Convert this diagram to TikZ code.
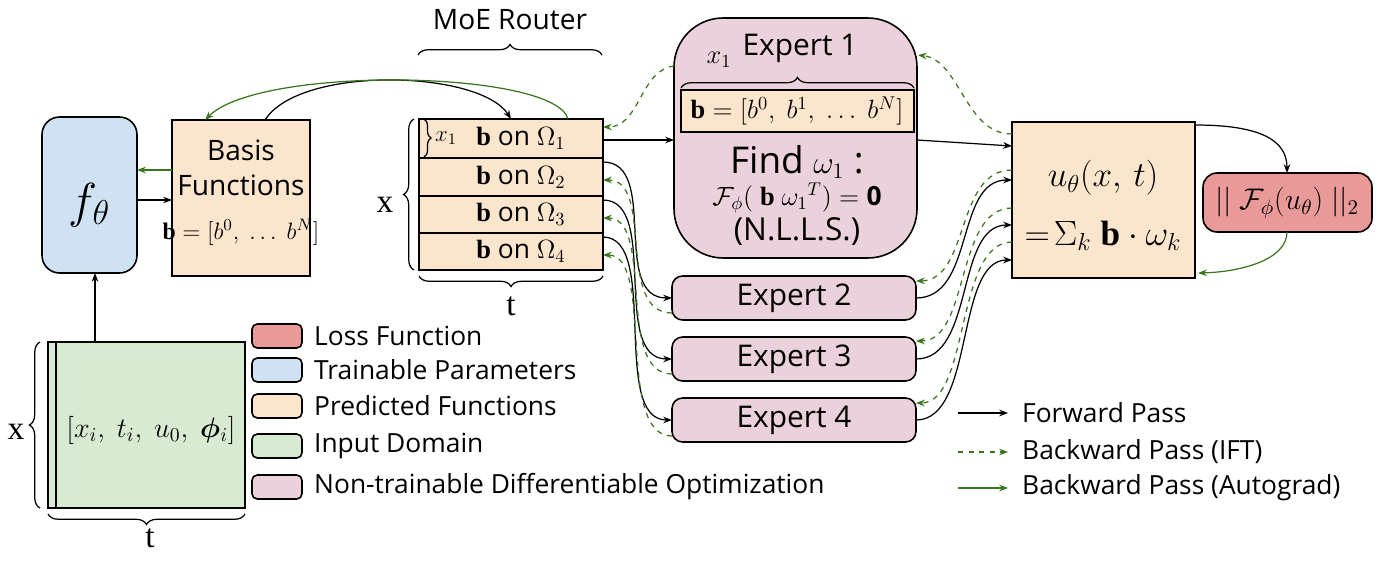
\RequirePackage{fix-cm}
\documentclass[tikz,border=0pt]{standalone}
\usepackage{amsmath}
\usepackage{bm}
\usepackage[no-math]{fontspec}
\setmainfont{Open Sans}
\newfontfamily\serif{Liberation Serif}
\usetikzlibrary{decorations.pathreplacing,arrows.meta}
\definecolor{cblue}{HTML}{CFE2F3}
\definecolor{cpeach}{HTML}{FCE5CD}
\definecolor{cgreen}{HTML}{D9EAD3}
\definecolor{cpink}{HTML}{EAD1DC}
\definecolor{cred}{HTML}{EA9999}
\definecolor{agreen}{HTML}{38761D}
\newcommand{\fs}[1]{\fontsize{#1}{#1}\selectfont}
\newcommand{\vb}{\text{\serif\bfseries b}}
\begin{document}
\begin{tikzpicture}[x=0.02cm,y=-0.02cm,
  box/.style={draw,line width=0.9pt,inner sep=0pt},
  fwd/.style={-{Stealth[length=5pt]},line width=0.7pt},
  ift/.style={-{Stealth[length=5pt]},agreen,dashed,line width=0.7pt},
  auto/.style={-{Stealth[length=5pt]},agreen,line width=0.7pt},
  brc/.style={decorate,decoration={brace,amplitude=6pt},line width=0.7pt},
  nodes={font=\fs{13}}]
\useasboundingbox (0,0) rectangle (1376,561);
% f theta
\path[box,fill=cblue,rounded corners=10pt] (42,117) rectangle (137,273);
\coordinate (fE1) at (137,170); \coordinate (fE2) at (137,200); \coordinate (fS) at (95,273);
\node (f) at (89.5,205) {\fs{28}$f_\theta$};
% basis
\path[box,fill=cpeach] (172,120) rectangle (310,276);
\node (basis) at (241,168) [align=center,font=\fs{16}] {Basis\\[4pt]Functions};
\node at (241,232) {\fs{13.5}$\vb = [b^0,\ \dots\ b^N]$};
\coordinate (bW1) at (172,170); \coordinate (bW2) at (172,200);
\coordinate (bN1) at (265,120); \coordinate (bN2) at (205,120);
% router
\foreach \a/\b/\i in {119/158/1,158/196/2,196/233/3,233/270/4}{
  \path[box,fill=cpeach] (419,\a) rectangle (603,\b);
  \node (r\i) at (521,{(\a+\b)/2}) {\fs{15}$\vb$ on $\Omega_{\i}$};
}
\draw[brc] (414,270) -- (414,119);
\node at (385,205) {\fs{19}\serif x};
\draw[brc] (603,276) -- (419,276);
\node at (511,306) {\fs{19}\serif t};
\draw[brc,decoration={amplitude=4pt}] (424,119) -- (424,157);
\node at (446,138) {\fs{13}$x_1$};
\draw[brc] (418,55) -- (602,55);
\node at (510,20) {\fs{16}MoE Router};
\coordinate (rN1) at (511,119); \coordinate (rN2) at (568,119);
% expert 1
\path[box,fill=cpink,rounded corners=28pt] (674,18) rectangle (917,258);
\node (e1) at (800,48) {\fs{17}Expert 1};
\node at (719,60) {\fs{15}$x_1$};
\path[box,fill=cpeach] (681,90) rectangle (914,132);
\draw[brc] (681,88) -- (914,88);
\node at (797,111) {\fs{15}$\vb = [b^0,\ b^1,\ \dots\ b^N]$};
\node at (797,162) {\fs{21}Find {\fs{18}$\omega_1$} :};
\node at (797,198) {\fs{15}$\mathcal{F}_\phi(\ \vb\ \omega_1{}^T) = \text{\bfseries 0}$};
\node at (797,232) {\fs{18}(N.L.L.S.)};
% experts 2-4
\foreach \y/\i in {298/2,359/3,420/4}{
  \path[box,fill=cpink,rounded corners=6pt] (672,\y-22) rectangle (916,\y+22);
  \node (e\i) at (794,\y) {\fs{17}Expert \i};
}
% u box
\path[box,fill=cpeach] (1012,122) rectangle (1195,278);
\node (u) at (1103,178) {\fs{20}$u_\theta(x,\,t)$};
\node at (1103,236) {\fs{20}$=\!\Sigma_k\ \vb\cdot\omega_k$};
% loss
\path[box,fill=cred,rounded corners=8pt] (1203,173) rectangle (1372,232);
\node (loss) at (1287,203) {\fs{17}$||\ \mathcal{F}_\phi(u_\theta)\ ||_2$};
% input
\path[box,fill=cgreen] (48,342) rectangle (245,508);
\draw[line width=0.9pt] (56,342) -- (56,508);
\node (in) at (151,430) {\fs{16}$[x_i,\ t_i,\ u_0,\ \bm{\phi}_i]$};
\draw[brc] (40,508) -- (40,342);
\node at (16,432) {\fs{19}\serif x};
\draw[brc] (245,514) -- (48,514);
\node at (150,538) {\fs{19}\serif t};
% legend
\foreach \y/\c/\t in {336/cred/Loss Function,370/cblue/Trainable Parameters,406/cpeach/Predicted Functions,446/cgreen/Input Domain,487/cpink/Non-trainable Differentiable Optimization}{
  \path[box,fill=\c,rounded corners=3pt] (252,\y-12) rectangle (302,\y+12);
  \node[anchor=west] at (308,\y) {\fs{15}\t};
}
\foreach \y/\s/\t in {413/fwd/Forward Pass,452/ift/Backward Pass (IFT),488/auto/Backward Pass (Autograd)}{
  \coordinate (la\y) at (958,\y); \coordinate (lb\y) at (1008,\y);
  \draw[\s] (la\y) -- (lb\y);
  \node[anchor=west] at (1016,\y) {\fs{15}\t};
}
% connectors left
\draw[fwd] (95,342) -- (fS);
\draw[auto] (bW1) -- (fE1);
\draw[fwd] (fE2) -- (bW2);
\draw[fwd] (bN1) .. controls (300,65) and (480,70) .. (rN1);
\draw[auto] (rN2) .. controls (555,70) and (260,65) .. (bN2);
% router -> experts
\draw[fwd] (603,140) -- (674,140);
\draw[fwd] (603,162) .. controls (660,162) and (610,298) .. (672,298);
\draw[fwd] (603,200) .. controls (660,200) and (610,359) .. (672,359);
\draw[fwd] (603,237) .. controls (660,237) and (610,420) .. (672,420);
\draw[ift] (674,66) .. controls (640,70) and (640,127) .. (603,127);
\draw[ift] (672,313) .. controls (615,313) and (655,180) .. (603,180);
\draw[ift] (672,374) .. controls (615,374) and (655,218) .. (603,218);
\draw[ift] (672,436) .. controls (615,436) and (655,255) .. (603,255);
% experts -> u
\draw[fwd] (917,140) -- (1012,146);
\draw[fwd] (916,298) .. controls (975,298) and (955,180) .. (1012,180);
\draw[fwd] (916,359) .. controls (975,359) and (955,225) .. (1012,225);
\draw[fwd] (916,420) .. controls (975,420) and (955,260) .. (1012,260);
\draw[ift] (1012,134) .. controls (965,134) and (960,60) .. (918,55);
\draw[ift] (1012,170) .. controls (955,170) and (970,280) .. (916,281);
\draw[ift] (1012,208) .. controls (955,208) and (970,341) .. (916,341);
\draw[ift] (1012,242) .. controls (955,242) and (970,403) .. (916,403);
\draw[fwd] (1195,125) .. controls (1260,125) and (1287,140) .. (1287,173);
\draw[auto] (1287,232) .. controls (1287,260) and (1240,272) .. (1198,273);
\end{tikzpicture}
\end{document}
